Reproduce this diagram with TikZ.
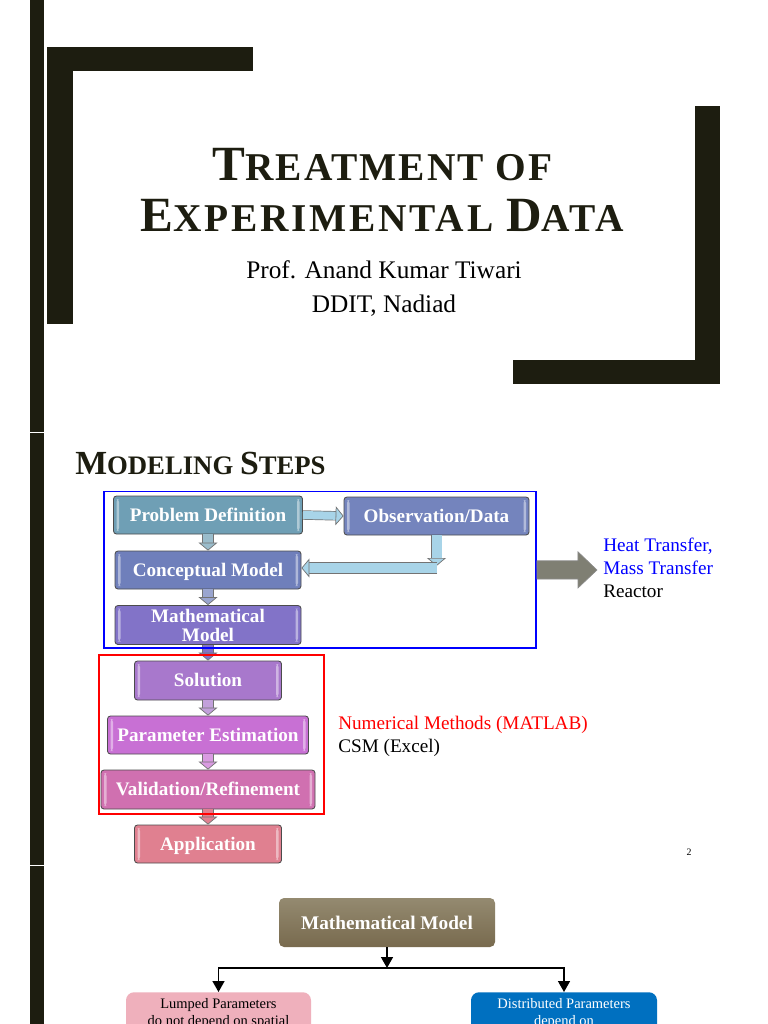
\documentclass[tikz,border=0pt]{standalone}
\usepackage{fontspec}
\setmainfont{Liberation Serif}
\usetikzlibrary{arrows.meta}
\newfontfamily\titlefont[LetterSpace=5]{Liberation Serif}
\newfontfamily\titlewide[LetterSpace=7]{Liberation Serif}
\def\pu{0.025cm}
\definecolor{barcol}{HTML}{1D1D10}
\definecolor{problemcol}{HTML}{6F9FB5}
\definecolor{obscol}{HTML}{7484BD}
\definecolor{conceptcol}{HTML}{6F7FBB}
\definecolor{mathcol}{HTML}{8273C8}
\definecolor{solutioncol}{HTML}{A878CC}
\definecolor{paramcol}{HTML}{C870D4}
\definecolor{validcol}{HTML}{D070B0}
\definecolor{appcol}{HTML}{E08090}
\definecolor{sidecol}{HTML}{A8D4E8}
\definecolor{bigcol}{HTML}{7F7F73}
\definecolor{browntop}{HTML}{948A70}
\definecolor{brownbot}{HTML}{786A4E}
\definecolor{lumpedcol}{HTML}{EFB0BC}
\definecolor{distribcol}{HTML}{0070C0}
\newcommand{\titlecap}[1]{{\fontsize{35}{35}\selectfont #1}}
\newcommand{\headcap}[1]{{\fontsize{24}{24}\selectfont #1}}
\tikzset{
  bar/.style={fill=barcol,draw=none},
  stepbox/.style n args={3}{draw=black!70,line width=.6pt,rounded corners=3*\pu,fill=#3,inner sep=0pt,
    minimum width=#1*\pu,minimum height=#2*\pu,text=white,align=center,
    text height=13*\pu,text depth=1*\pu,
    font=\fontsize{13.6}{13.5}\selectfont\bfseries,
    path picture={
      \fill[white,opacity=.45] ([xshift=3*\pu,yshift=-3*\pu]path picture bounding box.north west) rectangle ([xshift=5.5*\pu,yshift=3*\pu]path picture bounding box.south west);
      \fill[white,opacity=.45] ([xshift=-3*\pu,yshift=-3*\pu]path picture bounding box.north east) rectangle ([xshift=-5.5*\pu,yshift=3*\pu]path picture bounding box.south east);
    }},
  flowarrow/.style={draw=black!55,line width=.5pt,double=#1,double distance=10*\pu,
    -{Triangle[length=8*\pu,width=19*\pu,fill=#1,line width=.5pt]}},
  framebox/.style n args={3}{draw=#3,line width=1.4pt,fill=none,inner sep=0pt,minimum width=#1*\pu,minimum height=#2*\pu},
  note/.style={anchor=west,inner sep=0pt,align=left,font=\fontsize{13.65}{16.4}\selectfont},
  treearrow/.style={line width=1.1pt,-{Triangle[length=11*\pu,width=12*\pu]}},
  leafbox/.style n args={3}{rounded corners=8*\pu,fill=#3,inner sep=0pt,anchor=north,minimum width=#1*\pu,minimum height=#2*\pu},
  leaftext/.style={anchor=north,inner sep=0pt,align=center,font=\fontsize{10.3}{12.2}\selectfont},
}
\begin{document}
\begin{tikzpicture}[x=\pu,y=-\pu]
\clip (0,0) rectangle (768,1024);
\fill[white] (0,0) rectangle (768,1024);

% bars
\fill[bar] (30,0) rectangle (44,431.5);
\fill[bar] (30,432.5) rectangle (44,865);
\fill[bar] (30,866) rectangle (44,1024);
\fill[bar] (47,47) rectangle (253,71);
\fill[bar] (47,47) rectangle (73,324);
\fill[bar] (695,106) rectangle (720,384);
\fill[bar] (513,360) rectangle (720,384);

% title
\node[text=barcol,font=\titlefont\fontsize{28}{28}\selectfont\bfseries,inner sep=0pt] (title1) at (382.5,165) {\titlecap{T}REATMENT OF};
\node[text=barcol,font=\titlewide\fontsize{28}{28}\selectfont\bfseries,inner sep=0pt] (title2) at (382.5,215) {\titlecap{E}XPERIMENTAL \titlecap{D}ATA};
\node[font=\fontsize{18}{18}\selectfont,inner sep=0pt] (prof) at (384,270) {Prof. Anand Kumar Tiwari};
\node[font=\fontsize{18}{18}\selectfont,inner sep=0pt] (ddit) at (384,305.5) {DDIT, Nadiad};

% modeling steps
\node[anchor=west,text=barcol,font=\fontsize{19}{19}\selectfont\bfseries,inner sep=0pt] (heading) at (75,463) {\headcap{M}ODELING \headcap{S}TEPS};

\node[stepbox={189}{38}{problemcol}] (problem) at (208,515) {Problem Definition};
\node[stepbox={185}{38}{obscol}] (obs) at (436.5,516) {Observation/Data};
\node[stepbox={186}{38}{conceptcol}] (concept) at (208,570) {Conceptual Model};
\node[stepbox={186}{39}{mathcol},text height=,text depth=] (math) at (208,625) {Mathematical\\Model};
\node[stepbox={147}{39}{solutioncol}] (solution) at (208,680.5) {Solution};
\node[stepbox={201}{38}{paramcol}] (param) at (208,735) {Parameter Estimation};
\node[stepbox={214}{39}{validcol}] (valid) at (208,789.5) {Validation/Refinement};
\node[stepbox={147}{38}{appcol}] (app) at (208,844) {Application};

\coordinate (bend) at (437,568);
\coordinate (bigtip) at (597,570);

% arrows between the steps
\draw[flowarrow={problemcol!70!white}] (problem) -- (concept);
\draw[flowarrow={conceptcol!70!white}] (concept) -- (math);
\draw[flowarrow={mathcol}] (math) -- (solution);
\draw[flowarrow={solutioncol!70!white}] (solution) -- (param);
\draw[flowarrow={paramcol!70!white}] (param) -- (valid);
\draw[flowarrow={appcol}] (valid) -- (app);
\draw[flowarrow={sidecol},double distance=8*\pu] (problem.east) -- (obs.west);
\draw[flowarrow={sidecol},shorten >=2*\pu] (obs.south) -- (obs.south |- bend);
\draw[flowarrow={sidecol}] (bend) -- (bend -| concept.east);

\node[framebox={432}{156.5}{blue}] (bluebox) at (320,569.75) {};
\node[framebox={225}{159}{red}] (redbox) at (211.5,734.5) {};
\draw[draw=black!45,line width=.4pt,fill=bigcol] (bluebox.east) ++(0,-9) -- ++(41,0) -- ++(0,-9) -- (bigtip) -- ++(-19,18) -- ++(0,-9) -- ++(-41,0) -- cycle;

\node[note] (heat) at (603,568) {\textcolor{blue}{Heat Transfer,}\\\textcolor{blue}{Mass Transfer}\\Reactor};
\node[note] (numeric) at (338,736.5) {\textcolor{red}{Numerical Methods (MATLAB)}\\CSM (Excel)};
\node[font=\fontsize{7}{7}\selectfont,inner sep=0pt] (pagenum) at (689,852.5) {2};

% lower slide
\node[rounded corners=5*\pu,top color=browntop,bottom color=brownbot,draw=none,inner sep=0pt,minimum width=216*\pu,minimum height=49*\pu,text=white,font=\fontsize{13.7}{13.7}\selectfont\bfseries] (mathmodel) at (387,922.5) {Mathematical Model};
\node[leafbox={185}{80}{lumpedcol}] (lumped) at (218.5,992) {};
\node[leafbox={186}{80}{distribcol}] (distrib) at (564,992) {};
\node[leaftext] (lumpedtext) at (218.5,998) {Lumped Parameters\\do not depend on spatial};
\node[leaftext,text=white] (distribtext) at (564,998) {Distributed Parameters\\depend on};
\coordinate (bus) at (387,968);
\draw[treearrow] (mathmodel.south) -- (bus);
\draw[treearrow] (bus) -| (lumped.north);
\draw[treearrow] (bus) -| (distrib.north);
\end{tikzpicture}
\end{document}
